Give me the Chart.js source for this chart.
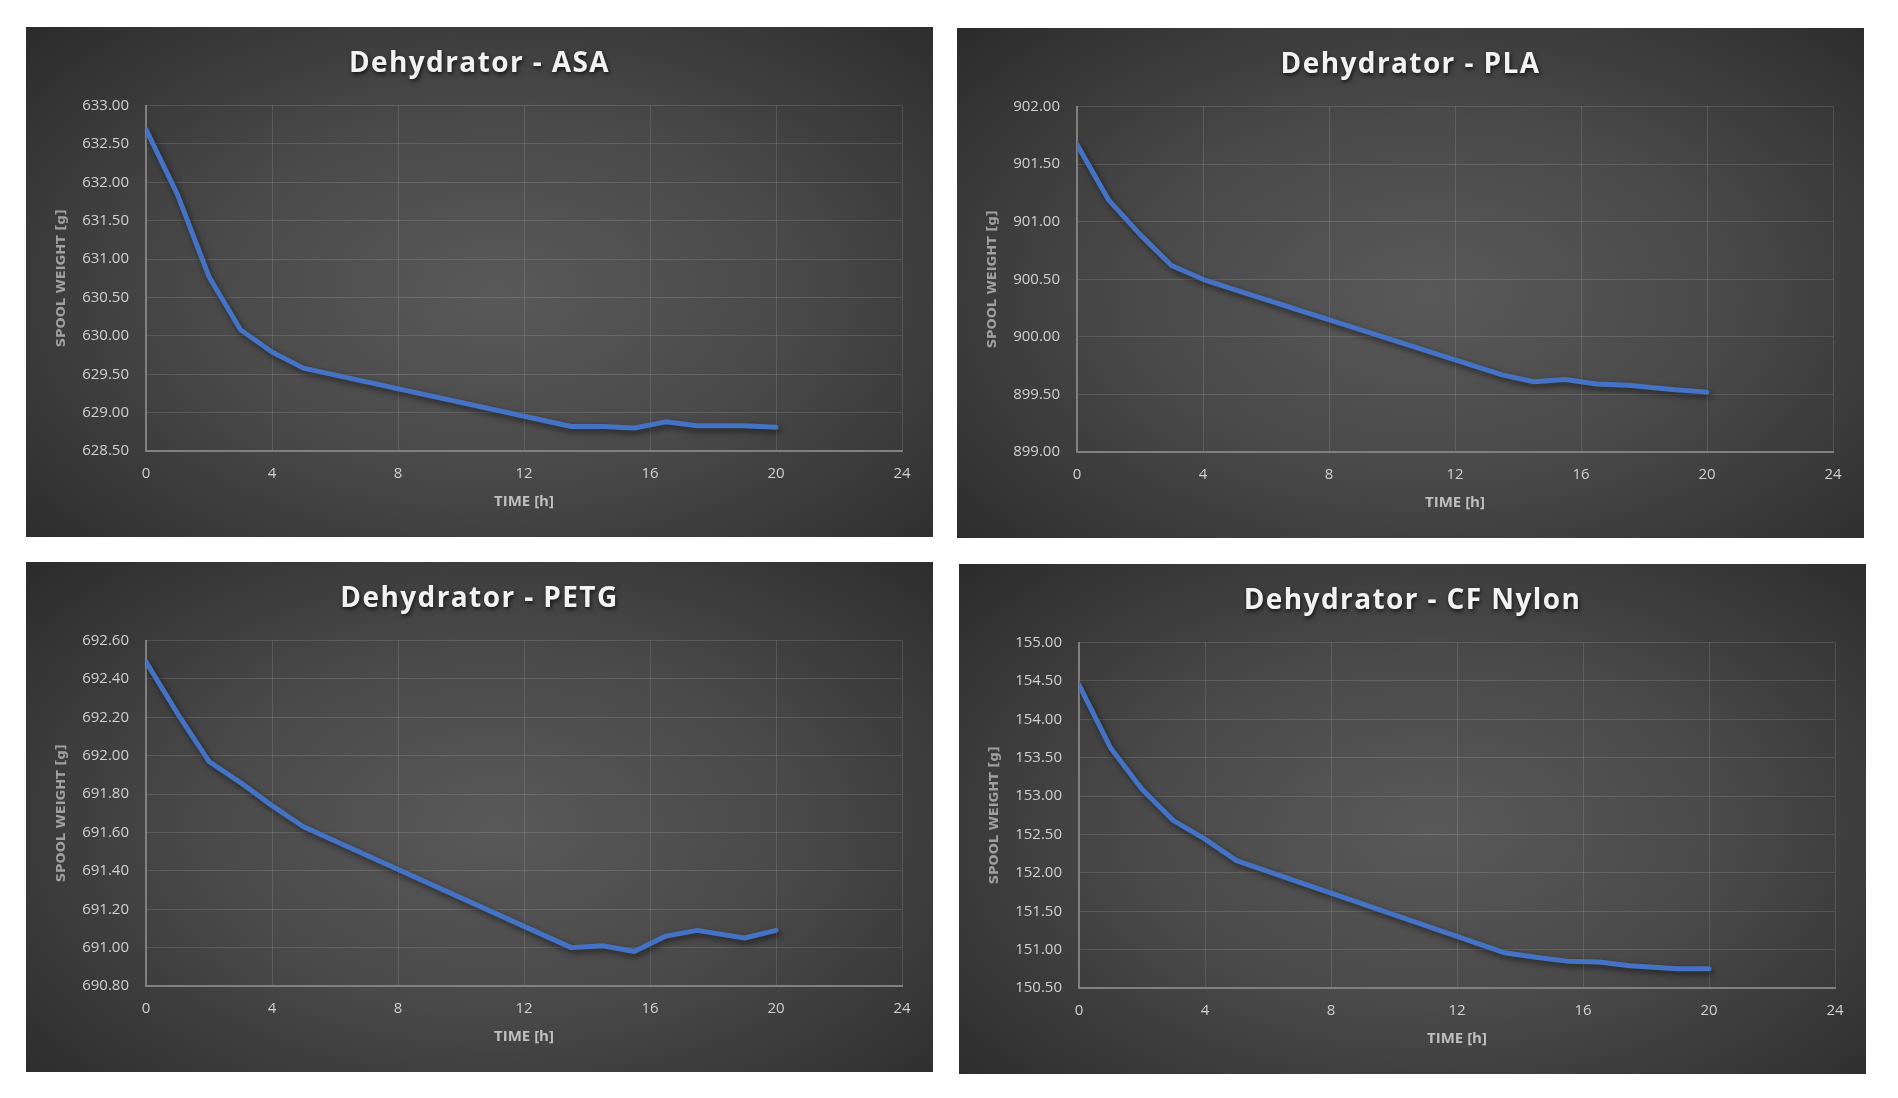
<!DOCTYPE html>
<html>
<head>
<meta charset="utf-8">
<title>Dehydrator - spool weight</title>
<script src="https://cdn.jsdelivr.net/npm/chart.js@4.4.1/dist/chart.umd.min.js"></script>
<style>
    html, body { margin: 0; padding: 0; background: #fff; }
    body { width: 1898px; height: 1098px; position: relative; overflow: hidden; }
    .panel {
        position: absolute;
        width: 907px;
        height: 510px;
        background: radial-gradient(ellipse 78% 85% at 52% 52%, #595959 0%, #4a4a4a 40%, #333 78%, #242424 100%);
    }
    .panel canvas { display: block; }
</style>
</head>
<body>
<div class="panel" style="left:26px;top:27px"><canvas id="chart_asa" width="907" height="510"></canvas></div>
<div class="panel" style="left:957px;top:28px"><canvas id="chart_pla" width="907" height="510"></canvas></div>
<div class="panel" style="left:26px;top:562px"><canvas id="chart_petg" width="907" height="510"></canvas></div>
<div class="panel" style="left:959px;top:564px"><canvas id="chart_nylon" width="907" height="510"></canvas></div>
<script>
// hours since start of drying
const time_h = [0, 1, 2, 3, 4, 5, 13.5, 14.5, 15.5, 16.5, 17.5, 19, 20];

// spool weight [g] at each time
const asa_g = [632.69, 631.84, 630.77, 630.08, 629.79, 629.58, 628.82, 628.82, 628.80, 628.88, 628.83, 628.83, 628.81];
const pla_g = [901.67, 901.19, 900.89, 900.62, 900.50, 900.41, 899.67, 899.61, 899.63, 899.59, 899.58, 899.54, 899.52];
const petg_g = [692.49, 692.22, 691.97, 691.86, 691.74, 691.63, 691.00, 691.01, 690.98, 691.06, 691.09, 691.05, 691.09];
const nylon_g = [154.45, 153.63, 153.09, 152.68, 152.44, 152.16, 150.96, 150.90, 150.85, 150.84, 150.79, 150.75, 150.75];

// axis ranges: [min, max, step]
const time_axis = [0, 24, 4];
const asa_axis = [628.5, 633, 0.5];
const pla_axis = [899, 902, 0.5];
const petg_axis = [690.8, 692.6, 0.2];
const nylon_axis = [150.5, 155, 0.5];

const tick_color = "#d0d0d0";
const grid_color = "rgba(255,255,255,0.12)";
const axis_color = "#808080";
const right_pad = 31;

// soft shadow under the line, like the excel style
const line_shadow = {
    id: "line_shadow",
    beforeDatasetsDraw(chart) {
        const c = chart.ctx;
        c.save();
        c.shadowColor = "rgba(0,0,0,0.55)";
        c.shadowBlur = 6;
        c.shadowOffsetX = 2;
        c.shadowOffsetY = 3;
    },
    afterDatasetsDraw(chart) {
        chart.ctx.restore();
    },
};

// title gets a shadow, a bit of letter spacing, and is centred on the
// whole panel (layout padding on the right pushes it off otherwise)
const title_style = {
    id: "title_style",
    afterInit(chart) {
        const tb = chart.titleBlock;
        if (!tb) return;
        const orig = tb.draw.bind(tb);
        tb.draw = () => {
            const c = chart.ctx;
            c.save();
            c.translate(right_pad / 2, 0);
            c.letterSpacing = "1.4px";
            c.shadowColor = "rgba(0,0,0,0.75)";
            c.shadowBlur = 4;
            c.shadowOffsetX = 1;
            c.shadowOffsetY = 2;
            orig();
            c.restore();
        };
    },
};

const make_chart = (canvas_id, title, weights, y_axis) => {
    const points = time_h.map((t, i) => ({ x: t, y: weights[i] }));
    const ctx = document.getElementById(canvas_id).getContext("2d");
    return new Chart(ctx, {
        type: "line",
        plugins: [line_shadow, title_style],
        data: {
            datasets: [
                {
                    label: title,
                    data: points,
                    borderColor: "#4472C4",
                    backgroundColor: "#4472C4",
                    borderWidth: 5,
                    borderCapStyle: "round",
                    borderJoinStyle: "round",
                    pointRadius: 0,
                    tension: 0,
                    fill: false,
                },
            ],
        },
        options: {
            responsive: false,
            animation: false,
            layout: { padding: { left: 0, right: right_pad, top: 0, bottom: 0 } },
            plugins: {
                legend: { display: false },
                tooltip: { enabled: false },
                title: {
                    display: true,
                    text: title,
                    color: "#f2f2f2",
                    font: { family: "'Open Sans'", size: 28, weight: "bold", lineHeight: 1.2 },
                    padding: { top: 20, bottom: 25 },
                },
            },
            scales: {
                x: {
                    type: "linear",
                    min: time_axis[0],
                    max: time_axis[1],
                    afterFit: (scale) => {
                        scale.height = 86;
                    },
                    ticks: {
                        stepSize: time_axis[2],
                        color: tick_color,
                        padding: 14,
                        maxRotation: 0,
                        font: { family: "'Open Sans'", size: 15 },
                    },
                    grid: { color: grid_color, lineWidth: 1, drawTicks: false },
                    border: { color: axis_color, width: 2 },
                    title: {
                        display: true,
                        text: "TIME [h]",
                        color: "#bfbfbf",
                        font: { family: "'Open Sans'", size: 15, weight: "bold", lineHeight: 1.2 },
                        padding: { top: 0, bottom: 26 },
                    },
                },
                y: {
                    min: y_axis[0],
                    max: y_axis[1],
                    afterFit: (scale) => {
                        scale.width = 120;
                    },
                    ticks: {
                        stepSize: y_axis[2],
                        color: tick_color,
                        padding: 17,
                        font: { family: "'Open Sans'", size: 15 },
                        callback: (value) => Number(value).toFixed(2),
                    },
                    grid: { color: grid_color, lineWidth: 1, drawTicks: false },
                    border: { color: axis_color, width: 2 },
                    title: {
                        display: true,
                        text: "SPOOL WEIGHT [g]",
                        color: "#a0a0a0",
                        font: { family: "'DejaVu Sans'", size: 13, weight: "bold", lineHeight: 1.2 },
                        padding: { top: 28, bottom: 0 },
                    },
                },
            },
        },
    });
};

make_chart("chart_asa", "Dehydrator - ASA", asa_g, asa_axis);
make_chart("chart_pla", "Dehydrator - PLA", pla_g, pla_axis);
make_chart("chart_petg", "Dehydrator - PETG", petg_g, petg_axis);
make_chart("chart_nylon", "Dehydrator - CF Nylon", nylon_g, nylon_axis);
</script>
</body>
</html>
